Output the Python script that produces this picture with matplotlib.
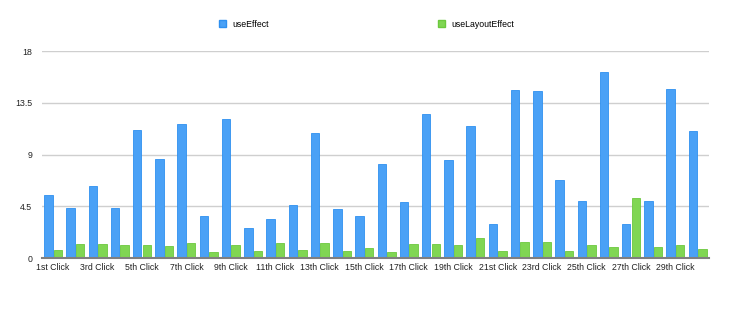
import matplotlib.pyplot as plt
import numpy as np
from matplotlib.patches import Patch

plt.rcParams['font.family'] = ['Liberation Sans', 'DejaVu Sans']

ordinals = ['1st', '2nd', '3rd', '4th', '5th', '6th', '7th', '8th', '9th', '10th',
            '11th', '12th', '13th', '14th', '15th', '16th', '17th', '18th', '19th', '20th',
            '21st', '22nd', '23rd', '24th', '25th', '26th', '27th', '28th', '29th', '30th']
clicks = [o + ' Click' for o in ordinals]

use_effect = [5.45, 4.33, 6.29, 4.38, 11.12, 8.63, 11.65, 3.68, 12.11, 2.58,
              3.39, 4.58, 10.86, 4.29, 3.68, 8.14, 4.88, 12.49, 8.57, 11.47,
              2.95, 14.61, 14.52, 6.8, 4.99, 16.18, 2.95, 4.99, 14.67, 11.07]
use_layout_effect = [0.7, 1.2, 1.2, 1.14, 1.11, 1.02, 1.31, 0.53, 1.14, 0.58,
                     1.31, 0.7, 1.34, 0.58, 0.88, 0.5, 1.23, 1.2, 1.11, 1.72,
                     0.58, 1.37, 1.4, 0.64, 1.11, 0.96, 5.2, 0.96, 1.17, 0.76]

blue = '#4AA1F6'
green = '#80D653'

fig = plt.figure(figsize=(7.3, 3.3), dpi=100)
ax = fig.add_axes([0.0575, 0.218, 0.9135, 0.627])

x = np.arange(len(clicks))
w = 0.38
ax.bar(x - 0.215, use_effect, w, color=blue, edgecolor='#2E90F0', linewidth=0.6, zorder=3)
ax.bar(x + 0.215, use_layout_effect, w, color=green, edgecolor='#6CC83E', linewidth=0.6, zorder=3)

ax.set_xlim(-0.5, len(clicks) - 0.5)
ax.set_ylim(0, 18)
ax.set_yticks([0, 4.5, 9, 13.5, 18])
ax.set_yticklabels(['0', '4.5', '9', '13.5', '18'])
ax.set_xticks(x[::2])
ax.set_xticklabels(clicks[::2])
ax.tick_params(axis='both', length=0, labelsize=6.3, colors='#222222')
ax.tick_params(axis='y', pad=7)
ax.tick_params(axis='x', pad=3.5)

ax.grid(axis='y', color='#CFCFCF', linewidth=1, zorder=0)
for s in ['top', 'right', 'left']:
    ax.spines[s].set_visible(False)
ax.spines['bottom'].set_color('#808080')
ax.spines['bottom'].set_linewidth(1.5)
ax.spines['bottom'].set_zorder(4)

handles = [Patch(facecolor=blue, edgecolor='#2E90F0'), Patch(facecolor=green, edgecolor='#6CC83E')]
fig.legend(handles, ['useEffect', 'useLayoutEffect'], ncol=2, loc='center',
           bbox_to_anchor=(0.502, 0.927), frameon=False, fontsize=6.3,
           handlelength=0.85, handleheight=0.85, handletextpad=0.7, columnspacing=19.3)

fig.savefig('out.png', dpi=100)
